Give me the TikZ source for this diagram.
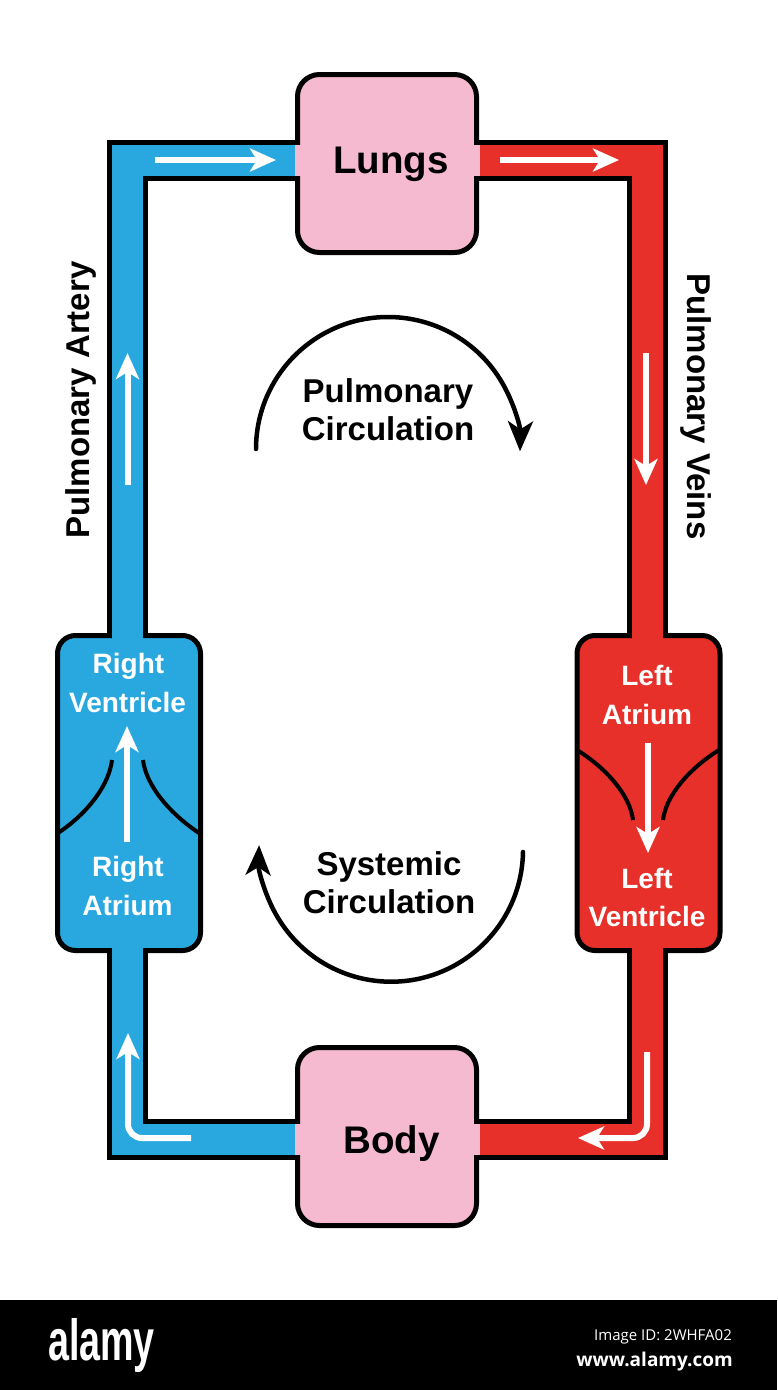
\documentclass[tikz,border=0pt]{standalone}
\usepackage{fontspec}
\setmainfont{Liberation Sans}
\newfontfamily\wmfont{Open Sans}
\usetikzlibrary{arrows.meta,backgrounds}
\definecolor{cblue}{RGB}{41,168,224}
\definecolor{cred}{RGB}{232,48,42}
\definecolor{cpink}{RGB}{246,186,208}
\newcommand\fsz[1]{\fontsize{#1pt}{#1pt}\selectfont}
\begin{document}
\begin{tikzpicture}[x=1pt,y=-1pt,
  tubeout/.style={line width=41pt,draw=black,line join=miter},
  tubecol/.style={line width=31pt,line join=miter},
  organ/.style={draw=black,line width=5pt,fill=cpink,rounded corners=22pt,minimum width=179pt,minimum height=178pt,inner sep=0pt},
  heart/.style={draw=black,line width=5pt,rounded corners=18pt,minimum width=143pt,minimum height=315pt,inner sep=0pt},
  flow/.style={draw=white,line width=6pt,-{Stealth[length=26pt,width=23pt,inset=7pt]}},
  circ/.style={draw=black,line width=4.5pt,line cap=round,-{Stealth[length=30pt,width=25pt,inset=8pt]}},
  bigtxt/.style={font=\bfseries\fsz{38.5},inner sep=0pt,anchor=base},
  midtxt/.style={font=\bfseries\fsz{33},inner sep=0pt,anchor=base},
  chtxt/.style={font=\bfseries\fsz{28},text=white,inner sep=0pt,anchor=base}]
\useasboundingbox (0,0) rectangle (777,1390);
% organs and heart chambers
\node[organ] (lungs) at (387,163.5) {};
\node[organ] (body) at (387,1136.5) {};
\node[heart,fill=cblue] (rheart) at (129,793) {};
\node[heart,fill=cred] (lheart) at (648.5,793) {};
% tube corners
\coordinate (tl) at (127.5,160);
\coordinate (bl) at (127.5,1139);
\coordinate (tr) at (647,160);
\coordinate (br) at (647,1139);
\begin{scope}[on background layer]
\fill[white] (0,0) rectangle (777,1390);
\draw[tubeout] (lungs.west |- tl) -- (tl) -- (bl) -- (body.west |- bl);
\draw[tubecol,draw=cblue] (lungs.west |- tl) -- (tl) -- (bl) -- (body.west |- bl);
\draw[tubeout] (lungs.east |- tr) -- (tr) -- (br) -- (body.east |- br);
\draw[tubecol,draw=cred] (lungs.east |- tr) -- (tr) -- (br) -- (body.east |- br);
\end{scope}
% openings where the tubes enter the boxes
\fill[cpink] (294.5,144.5) rectangle (300.5,175.5);
\fill[cpink] (473.5,144.5) rectangle (479.5,175.5);
\fill[cpink] (294.5,1123.5) rectangle (300.5,1154.5);
\fill[cpink] (473.5,1123.5) rectangle (479.5,1154.5);
\fill[cblue] (112,632) rectangle (143,639);
\fill[cblue] (112,947) rectangle (143,954);
\fill[cred] (631.5,632) rectangle (662.5,639);
\fill[cred] (631.5,947) rectangle (662.5,954);
% valves
\draw[line width=4pt] (58,833) .. controls (88,813) and (109,785) .. (112,760);
\draw[line width=4pt] (199,833) .. controls (169,813) and (146,785) .. (143,760);
\draw[line width=4pt] (577,750) .. controls (606,768) and (630,795) .. (633,820);
\draw[line width=4pt] (719,750) .. controls (690,768) and (666,795) .. (663,820);
% flow arrows
\coordinate (f1a) at (155,160); \coordinate (f1b) at (276,160);
\coordinate (f2a) at (500,160); \coordinate (f2b) at (619,160);
\coordinate (f3a) at (127.5,485); \coordinate (f3b) at (127.5,353);
\coordinate (f4a) at (646,353); \coordinate (f4b) at (646,485);
\coordinate (f5a) at (191,1138); \coordinate (f5c) at (128,1138); \coordinate (f5b) at (128,1033);
\coordinate (f6a) at (647,1052); \coordinate (f6c) at (647,1138); \coordinate (f6b) at (578,1138);
\coordinate (f7a) at (127,842); \coordinate (f7b) at (127,726);
\coordinate (f8a) at (648,743); \coordinate (f8b) at (648,853);
\draw[flow] (f1a) -- (f1b);
\draw[flow] (f2a) -- (f2b);
\draw[flow] (f3a) -- (f3b);
\draw[flow] (f4a) -- (f4b);
\draw[flow,rounded corners=14pt] (f5a) -- (f5c) -- (f5b);
\draw[flow,rounded corners=14pt] (f6a) -- (f6c) -- (f6b);
\draw[flow] (f7a) -- (f7b);
\draw[flow] (f8a) -- (f8b);
% circulation arrows
\coordinate (pc) at (256,449);
\coordinate (sc) at (523,852);
\draw[circ] (pc) arc[start angle=180,end angle=361,radius=132];
\draw[circ] (sc) arc[start angle=1,end angle=182,radius=132];
% texts
\node[bigtxt] (tlungs) at (391,173) {Lungs};
\node[bigtxt] (tbody) at (391.5,1153) {Body};
\node[midtxt] (tp1) at (388,402) {Pulmonary};
\node[midtxt] (tp2) at (388,440) {Circulation};
\node[midtxt] (ts1) at (389,875) {Systemic};
\node[midtxt] (ts2) at (389,913) {Circulation};
\node[midtxt,rotate=90] (tart) at (89,400) {Pulmonary Artery};
\node[midtxt,rotate=-90] (tvein) at (687,406.5) {Pulmonary Veins};
\node[chtxt] (trv1) at (128.5,673) {Right};
\node[chtxt] (trv2) at (127.5,712) {Ventricle};
\node[chtxt] (tra1) at (128,876) {Right};
\node[chtxt] (tra2) at (127.5,915) {Atrium};
\node[chtxt] (tla1) at (647,685) {Left};
\node[chtxt] (tla2) at (647,724) {Atrium};
\node[chtxt] (tlv1) at (647,888) {Left};
\node[chtxt] (tlv2) at (647,926) {Ventricle};
% bottom band
\fill[black] (0,1300) rectangle (777,1390);
\node[text=white,inner sep=0pt,anchor=base] (wlogo) at (101.5,1360) {\scalebox{0.65}[1]{\bfseries\fsz{58}alamy}};
\node[text=white,inner sep=0pt,anchor=base east] (wid) at (732,1340) {\wmfont\fsz{15}Image ID: 2WHFA02};
\node[text=white,inner sep=0pt,anchor=base east] (wurl) at (733,1366) {\wmfont\bfseries\fsz{19}www.alamy.com};
\end{tikzpicture}
\end{document}
